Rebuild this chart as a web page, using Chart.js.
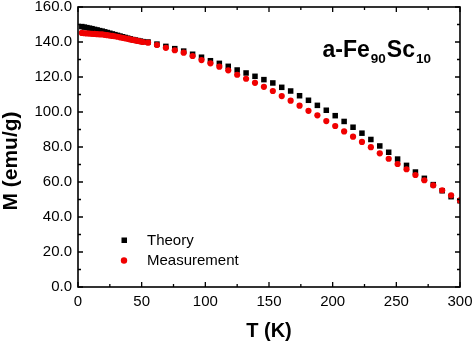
<!DOCTYPE html>
<html>
<head>
<meta charset="utf-8">
<script src="https://cdn.jsdelivr.net/npm/chart.js@4/dist/chart.umd.min.js"></script>
<style>
html,body{margin:0;padding:0;background:#fff;}
#wrap{width:474px;height:345px;position:relative;}
</style>
</head>
<body>
<div id="wrap"><canvas id="c" width="474" height="345"></canvas></div>
<script>
// ---- data ----
const temperatures = [3,5,7,9,11,13,15,17,19,21,23,25,27,29,31,33,35,37,39,41,43,45,47,49,51,
  55,62,69,76,83,90,97,104,111,118,125,132,139,146,153,160,167,174,181,188,195,202,209,216,223,230,237,244,251,258,265,272,279,286,293,300];
const theory = [148.8,148.5,148.2,147.9,147.6,147.2,146.9,146.5,146.2,145.8,145.4,145.0,144.6,144.2,143.8,143.4,143.0,142.6,142.2,141.8,141.4,141.1,140.8,140.5,140.2,
  140.0,138.8,137.5,136.2,134.8,133.0,131.3,129.3,127.8,126.1,124.0,122.3,120.4,118.5,116.6,114.1,112.0,109.3,106.7,103.8,101.0,97.9,94.6,91.3,87.9,84.3,80.6,77.0,73.1,69.5,65.7,62.1,58.5,55.0,51.6,49.3];
const measurement = [145.2,145.0,144.9,144.8,144.7,144.6,144.5,144.4,144.3,144.1,143.9,143.7,143.5,143.3,143.0,142.7,142.4,142.1,141.8,141.5,141.2,140.9,140.6,140.3,140.0,
  139.6,138.3,136.7,135.3,133.9,132.0,129.7,127.8,125.9,123.8,121.3,119.0,116.7,114.4,112.0,109.1,106.5,103.6,100.7,98.1,94.8,92.0,88.9,85.9,82.9,79.9,76.4,73.3,70.3,67.3,64.0,61.0,58.1,55.3,52.4,49.5];
const seriesNames = ['Theory','Measurement'];
const xTitle = 'T (K)';
const yTitle = 'M (emu/g)';

const FONT = '"Liberation Sans", Arial, sans-serif';
const RED = '#f00000';

const framePlugin = {
  id: 'frame',
  afterDatasetsDraw(chart) {
    const ctx = chart.ctx, a = chart.chartArea, xs = chart.scales.x, ys = chart.scales.y;
    ctx.save();
    ctx.strokeStyle = '#000';
    ctx.lineWidth = 1.6;
    ctx.strokeRect(a.left, a.top, a.right - a.left, a.bottom - a.top);
    ctx.lineWidth = 1.3;
    ctx.beginPath();
    for (let v = 0; v <= 300; v += 25) {
      const p = xs.getPixelForValue(v);
      const L = (v % 50 === 0) ? 5 : 3;
      ctx.moveTo(p, a.bottom); ctx.lineTo(p, a.bottom - L);
      ctx.moveTo(p, a.top); ctx.lineTo(p, a.top + L);
    }
    for (let v = 0; v <= 160; v += 10) {
      const p = ys.getPixelForValue(v);
      const L = (v % 20 === 0) ? 5 : 3;
      ctx.moveTo(a.left, p); ctx.lineTo(a.left + L, p);
      ctx.moveTo(a.right, p); ctx.lineTo(a.right - L, p);
    }
    ctx.stroke();

    // y-axis title
    ctx.fillStyle = '#000';
    ctx.font = 'bold 21px ' + FONT;
    ctx.textAlign = 'center';
    ctx.textBaseline = 'middle';
    ctx.save();
    ctx.translate(10, 161);
    ctx.rotate(-Math.PI / 2);
    ctx.fillText(yTitle, 0, 1);
    ctx.restore();

    // annotation a-Fe90Sc10
    ctx.textAlign = 'left';
    ctx.textBaseline = 'alphabetic';
    let x = 322.5;
    const parts = [['a-Fe', 23, 57], ['90', 13.5, 63], ['Sc', 23, 57], ['10', 13.5, 63]];
    for (const [t, s, y] of parts) {
      ctx.font = 'bold ' + s + 'px ' + FONT;
      ctx.fillText(t, x, y);
      x += ctx.measureText(t).width + 1;
    }

    // legend
    ctx.font = '15px ' + FONT;
    ctx.textBaseline = 'middle';
    const ds = chart.data.datasets;
    const rows = [240, 260];
    for (let i = 0; i < ds.length; i++) {
      const y = rows[i];
      ctx.fillStyle = ds[i].backgroundColor;
      if (ds[i].pointStyle === 'rect') {
        ctx.fillRect(121.5, y - 2.5, 5.5, 5.5);
      } else {
        ctx.beginPath(); ctx.arc(124, y + 0.5, 3.2, 0, Math.PI * 2); ctx.fill();
      }
      ctx.fillStyle = '#000';
      ctx.fillText(ds[i].label, 147, y + 1);
    }
    ctx.restore();
  }
};

new Chart(document.getElementById('c'), {
  type: 'scatter',
  data: {
    datasets: [
      {
        label: seriesNames[0],
        data: temperatures.map((t, i) => ({x: t, y: theory[i]})),
        pointStyle: 'rect',
        pointRadius: 3.9,
        backgroundColor: '#000',
        borderColor: '#000',
        borderWidth: 0,
        order: 2
      },
      {
        label: seriesNames[1],
        data: temperatures.map((t, i) => ({x: t, y: measurement[i]})),
        pointStyle: 'circle',
        pointRadius: 3.1,
        backgroundColor: RED,
        borderColor: RED,
        borderWidth: 0,
        order: 1
      }
    ]
  },
  options: {
    responsive: false,
    animation: false,
    layout: { padding: { top: 7, right: 14, left: 0, bottom: 0 } },
    plugins: { legend: { display: false }, tooltip: { enabled: false } },
    scales: {
      x: {
        type: 'linear', min: 0, max: 300,
        grid: { display: false, drawTicks: false },
        border: { display: false },
        ticks: { stepSize: 50, color: '#000', font: { family: FONT, size: 15 }, padding: 6, maxRotation: 0 },
        title: { display: true, text: xTitle, color: '#000', font: { family: FONT, size: 20, weight: 'bold' }, padding: { top: 0, bottom: 2 } },
        afterFit(s) { s.height = 58; s.paddingLeft = 0; s.paddingRight = 0; }
      },
      y: {
        type: 'linear', min: 0, max: 160,
        grid: { display: false, drawTicks: false },
        border: { display: false },
        ticks: { stepSize: 20, color: '#000', font: { family: FONT, size: 15 }, padding: 6,
          callback: v => Number(v).toFixed(1) },
        afterFit(s) { s.width = 78; s.paddingTop = 0; s.paddingBottom = 0; }
      }
    }
  },
  plugins: [framePlugin]
});
</script>
</body>
</html>
